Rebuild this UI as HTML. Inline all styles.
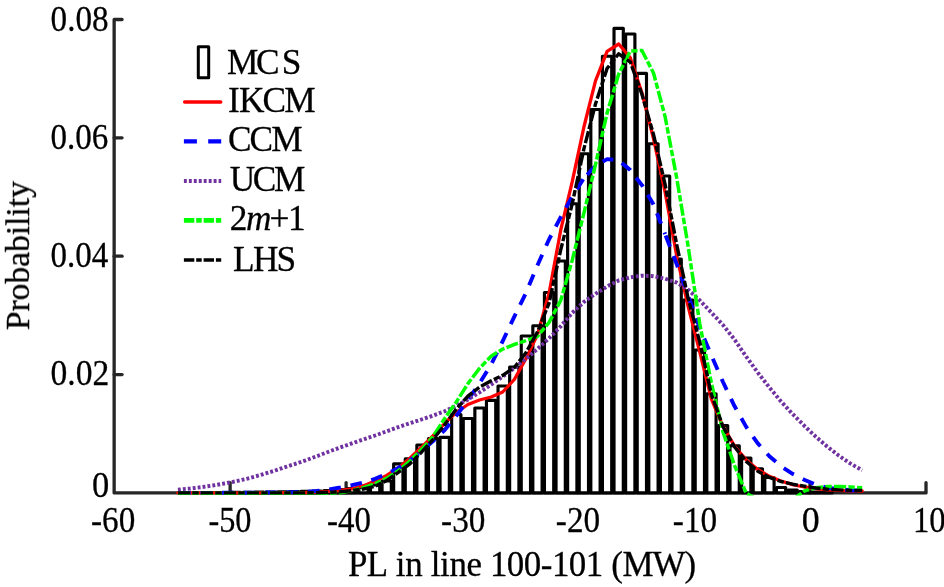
<!DOCTYPE html>
<html><head><meta charset="utf-8"><title>PL in line 100-101</title>
<style>
html,body{margin:0;padding:0;background:#fff}
body{width:944px;height:587px;overflow:hidden}
svg{display:block}
svg{font-family:"Liberation Serif","Times New Roman",serif;font-size:33.5px;fill:#000}
</style></head><body>
<svg width="944" height="587" viewBox="0 0 944 587">
<rect width="944" height="587" fill="#fff"/>
<filter id="soft" filterUnits="userSpaceOnUse" x="0" y="0" width="944" height="587"><feGaussianBlur stdDeviation="0.4"/></filter>
<g filter="url(#soft)">
<g stroke="#262626" stroke-width="3.3" fill="none" stroke-linecap="round" stroke-linejoin="round">
<path d="M122.05,19.50 H114.15 V492.90 H926.01 v-10.3"/>
<path d="M230.13,492.90 v-10.3"/>
<path d="M346.11,492.90 v-10.3"/>
<path d="M462.09,492.90 v-10.3"/>
<path d="M578.07,492.90 v-10.3"/>
<path d="M694.05,492.90 v-10.3"/>
<path d="M810.03,492.90 v-10.3"/>
<path d="M114.15,374.55 h7.9"/>
<path d="M114.15,256.20 h7.9"/>
<path d="M114.15,137.85 h7.9"/>
</g>
<g fill="#fff" stroke="#000" stroke-width="3.15" stroke-linejoin="round">
<rect x="231.29" y="492.20" width="9.28" height="0.70"/>
<rect x="242.89" y="492.20" width="9.28" height="0.70"/>
<rect x="254.49" y="492.00" width="9.28" height="0.90"/>
<rect x="266.08" y="492.00" width="9.28" height="0.90"/>
<rect x="277.68" y="491.80" width="9.28" height="1.10"/>
<rect x="289.28" y="491.60" width="9.28" height="1.30"/>
<rect x="300.88" y="491.40" width="9.28" height="1.50"/>
<rect x="312.48" y="491.00" width="9.28" height="1.90"/>
<rect x="324.07" y="490.50" width="9.28" height="2.40"/>
<rect x="335.67" y="489.50" width="9.28" height="3.40"/>
<rect x="347.27" y="488.50" width="9.28" height="4.40"/>
<rect x="358.87" y="487.50" width="9.28" height="5.40"/>
<rect x="370.47" y="485.00" width="9.28" height="7.90"/>
<rect x="382.06" y="481.00" width="9.28" height="11.90"/>
<rect x="393.66" y="463.85" width="9.28" height="29.05"/>
<rect x="405.26" y="458.70" width="9.28" height="34.20"/>
<rect x="416.86" y="445.00" width="9.28" height="47.90"/>
<rect x="428.46" y="438.50" width="9.28" height="54.40"/>
<rect x="440.05" y="437.40" width="9.28" height="55.50"/>
<rect x="451.65" y="414.50" width="9.28" height="78.40"/>
<rect x="463.25" y="418.50" width="9.28" height="74.40"/>
<rect x="474.85" y="408.00" width="9.28" height="84.90"/>
<rect x="486.45" y="400.30" width="9.28" height="92.60"/>
<rect x="498.04" y="386.00" width="9.28" height="106.90"/>
<rect x="509.64" y="367.00" width="9.28" height="125.90"/>
<rect x="521.24" y="336.00" width="9.28" height="156.90"/>
<rect x="532.84" y="325.75" width="9.28" height="167.15"/>
<rect x="544.44" y="292.50" width="9.28" height="200.40"/>
<rect x="556.03" y="261.00" width="9.28" height="231.90"/>
<rect x="567.63" y="203.75" width="9.28" height="289.15"/>
<rect x="579.23" y="153.75" width="9.28" height="339.15"/>
<rect x="590.83" y="109.50" width="9.28" height="383.40"/>
<rect x="602.43" y="56.25" width="9.28" height="436.65"/>
<rect x="614.02" y="28.30" width="9.28" height="464.60"/>
<rect x="625.62" y="34.00" width="9.28" height="458.90"/>
<rect x="637.22" y="73.40" width="9.28" height="419.50"/>
<rect x="648.82" y="143.75" width="9.28" height="349.15"/>
<rect x="660.42" y="176.00" width="9.28" height="316.90"/>
<rect x="672.01" y="259.00" width="9.28" height="233.90"/>
<rect x="683.61" y="300.00" width="9.28" height="192.90"/>
<rect x="695.21" y="350.00" width="9.28" height="142.90"/>
<rect x="706.81" y="393.75" width="9.28" height="99.15"/>
<rect x="718.41" y="425.50" width="9.28" height="67.40"/>
<rect x="730.00" y="445.75" width="9.28" height="47.15"/>
<rect x="741.60" y="458.00" width="9.28" height="34.90"/>
<rect x="753.20" y="468.75" width="9.28" height="24.15"/>
<rect x="764.80" y="477.50" width="9.28" height="15.40"/>
<rect x="776.40" y="487.50" width="9.28" height="5.40"/>
<rect x="787.99" y="490.00" width="9.28" height="2.90"/>
<rect x="799.59" y="491.50" width="9.28" height="1.40"/>
<rect x="811.19" y="492.00" width="9.28" height="0.90"/>
<rect x="822.79" y="492.20" width="9.28" height="0.70"/>
</g>
<clipPath id="cp"><rect x="100" y="0" width="840" height="495.4"/></clipPath>
<g fill="none" stroke-width="3" stroke-linejoin="round" clip-path="url(#cp)">
<path d="M177.9,492.9 L189.5,492.9 L201.1,492.9 L212.7,492.9 L224.3,492.9 L235.9,492.8 L247.5,492.8 L259.1,492.8 L270.7,492.7 L282.3,492.7 L293.9,492.6 L305.5,492.5 L317.1,492.1 L328.7,491.4 L340.3,490.5 L351.9,488.8 L363.5,485.7 L375.1,481.1 L386.7,475.5 L398.3,467.9 L409.9,458.3 L421.5,447.3 L433.1,435.7 L444.7,423.3 L456.3,412.3 L467.9,404.5 L479.5,400.0 L491.1,397.0 L502.7,392.0 L514.3,379.5 L525.9,358.8 L537.5,334.6 L549.1,293.0 L560.7,230.2 L572.3,181.4 L583.9,127.0 L595.5,80.9 L607.1,51.3 L618.7,44.0 L630.3,57.7 L641.9,92.7 L653.5,138.6 L665.1,192.2 L676.7,255.8 L688.3,307.2 L699.8,352.2 L711.4,399.2 L723.0,426.4 L734.6,446.2 L746.2,459.9 L757.8,469.5 L769.4,476.3 L781.0,481.0 L792.6,484.6 L804.2,487.0 L815.8,488.7 L827.4,489.8 L839.0,490.4 L850.6,490.8 L862.2,491.0" stroke="#ff0000" stroke-width="3.3" stroke-linecap="round"/>
<path d="M177.9,492.9 L189.5,492.9 L201.1,492.9 L212.7,492.9 L224.3,492.8 L235.9,492.8 L247.5,492.7 L259.1,492.6 L270.7,492.5 L282.3,492.4 L293.9,492.3 L305.5,492.0 L317.1,490.9 L328.7,489.5 L340.3,487.5 L351.9,485.2 L363.5,482.5 L375.1,478.8 L386.7,473.9 L398.3,468.0 L409.9,460.4 L421.5,451.2 L433.1,441.1 L444.7,430.0 L456.3,415.9 L467.9,400.1 L479.5,383.3 L491.1,364.6 L502.7,341.1 L514.3,316.7 L525.9,293.0 L537.5,265.2 L549.1,239.3 L560.7,217.2 L572.3,196.5 L583.9,178.2" stroke="#0000ff" stroke-dasharray="11.7 9.8" stroke-dashoffset="20.41" stroke-width="3.9"/>
<path d="M583.9,178.2 L595.5,165.7 L607.1,159.1 L618.7,160.4 L630.3,170.1 L641.9,185.1 L653.5,204.5 L665.1,234.1" stroke="#0000ff" stroke-dasharray="11.3 9.4" stroke-dashoffset="16.00" stroke-width="3.9"/>
<path d="M665.1,234.1 L676.7,264.1 L688.3,296.5 L699.8,328.0 L711.4,355.5 L723.0,382.0 L734.6,406.3 L746.2,426.9 L757.8,443.4 L769.4,456.2 L781.0,466.2 L792.6,473.8 L804.2,479.7 L815.8,484.7 L827.4,487.7 L839.0,489.2 L850.6,490.2 L862.2,490.5" stroke="#0000ff" stroke-dasharray="12 10" stroke-dashoffset="20.48" stroke-width="3.9"/>
<path d="M177.9,489.6 L189.5,488.6 L201.1,487.2 L212.7,485.5 L224.3,483.5 L235.9,481.3 L247.5,478.6 L259.1,475.4 L270.7,471.9 L282.3,468.1 L293.9,464.3 L305.5,460.4 L317.1,456.1 L328.7,451.7 L340.3,447.4 L351.9,443.4 L363.5,439.4 L375.1,435.5 L386.7,431.3 L398.3,427.1 L409.9,423.2 L421.5,419.5 L433.1,415.6 L444.7,411.2 L456.3,405.8 L467.9,399.5 L479.5,392.4 L491.1,384.7 L502.7,376.6 L514.3,368.1 L525.9,358.9 L537.5,348.9 L549.1,338.2 L560.7,326.4 L572.3,312.8 L583.9,301.9 L595.5,293.8 L607.1,286.5 L618.7,280.4 L630.3,277.4 L641.9,275.6 L653.5,276.2 L665.1,278.7 L676.7,282.6 L688.3,289.8 L699.8,300.4 L711.4,312.6 L723.0,325.0 L734.6,339.7 L746.2,356.6 L757.8,372.6 L769.4,387.5 L781.0,401.4 L792.6,414.0 L804.2,425.7 L815.8,436.7 L827.4,446.7 L839.0,455.8 L850.6,463.6 L862.2,470.3" stroke="#7030a0" stroke-dasharray="2.9 2.06" stroke-width="3.9"/>
<path d="M177.9,493.3 L189.5,493.3 L201.1,493.3 L212.7,493.3 L224.3,493.3 L235.9,493.3 L247.5,493.3 L259.1,493.3 L270.7,493.3 L282.3,493.3 L293.9,493.3 L305.5,493.3 L317.1,493.2 L328.7,493.0 L340.3,492.7 L351.9,490.7 L363.5,487.7 L375.1,483.7 L386.7,478.4 L398.3,470.8 L409.9,461.0 L421.5,449.6 L433.1,436.5 L444.7,418.5 L456.3,402.0 L467.9,383.6 L479.5,368.4 L491.1,356.2 L502.7,349.1 L514.3,344.5 L525.9,340.6 L537.5,336.3 L549.1,322.4 L560.7,300.5 L572.3,259.9 L583.9,213.1 L595.5,164.6 L607.1,113.0 L618.7,74.1 L630.3,51.0 L641.9,50.5 L653.5,73.0 L665.1,116.6 L676.7,177.8 L688.3,247.4 L699.8,324.1 L711.4,383.1 L723.0,431.9 L734.6,465.6 L746.2,493.1 L757.8,500.0 L769.4,500.0 L781.0,500.0 L792.6,500.0 L804.2,491.0 L815.8,487.8 L827.4,486.6 L839.0,486.6 L850.6,486.9 L862.2,487.8" stroke="#00ff00" stroke-dasharray="12.2 2.2 6.4 2.2" stroke-dashoffset="0" stroke-width="3.5"/>
<path d="M177.9,492.9 L189.5,492.9 L201.1,492.9 L212.7,492.9 L224.3,492.9 L235.9,492.9 L247.5,492.9 L259.1,492.9 L270.7,492.9 L282.3,492.9 L293.9,492.9 L305.5,492.9 L317.1,492.7 L328.7,492.3 L340.3,491.8 L351.9,490.6 L363.5,489.0 L375.1,486.2 L386.7,480.5 L398.3,472.4 L409.9,463.8 L421.5,452.2 L433.1,439.4 L444.7,424.8 L456.3,409.1 L467.9,396.2 L479.5,387.1 L491.1,380.8 L502.7,375.4 L514.3,367.5 L525.9,352.8 L537.5,331.9 L549.1,303.0 L560.7,249.9 L572.3,203.5 L583.9,148.9 L595.5,104.0 L607.1,68.4 L618.7,53.8 L630.3,62.0 L641.9,94.2 L653.5,134.4 L665.1,184.4 L676.7,244.5 L688.3,299.0 L699.8,342.1 L711.4,394.4 L723.0,426.7 L734.6,447.0 L746.2,461.4 L757.8,471.2 L769.4,477.4 L781.0,481.5 L792.6,484.2 L804.2,486.1 L815.8,488.0 L827.4,489.3 L839.0,489.9 L850.6,490.4 L862.2,490.5" stroke="#000" stroke-dasharray="12.2 2.2 6.4 2.2" stroke-dashoffset="0" stroke-width="3.4"/>
</g>
<g fill="none" stroke-width="3">
<rect x="198.3" y="46.7" width="10.4" height="31.1" stroke="#000" stroke-width="3" stroke-linejoin="round" fill="#fff"/>
<path d="M184.6,102 H220.8" stroke="#ff0000" stroke-width="3.3" stroke-linecap="round"/>
<path d="M183.9,141.4 H221.2" stroke="#0000ff" stroke-dasharray="13 11.3" stroke-width="4.1"/>
<path d="M183.9,181.1 H221.2" stroke="#7030a0" stroke-dasharray="2.9 2.06" stroke-width="4.0"/>
<path d="M183.9,220.4 H221.2" stroke="#00ff00" stroke-dasharray="10.4 1.9 5.5 1.9" stroke-width="4.6"/>
<path d="M183.9,260 H221.2" stroke="#000" stroke-dasharray="10.4 1.9 5.5 1.9" stroke-width="3.6"/>
</g>
<g stroke="#000" stroke-width="0.28">
<text x="227 256.05 281.7" y="74.3" font-size="35.3">MCS</text>
<text x="228.02 238.90 262.47 284.25" y="112.20" font-size="35.3" >IKCM</text>
<text x="227.95 249.60 271.25" y="151.00" font-size="35.3" >CCM</text>
<text x="229.76 252.78 274.05" y="191.10" font-size="35.3" >UCM</text>
<text y="230.20" font-size="35.3" ><tspan x="229.75">2</tspan><tspan x="246.05" font-style="italic">m</tspan><tspan x="269.59 287.97">+1</tspan></text>
<text x="232.98 252.95 276.56" y="270.90" font-size="35.3" >LHS</text>
</g>
<g stroke="#000" stroke-width="0.28">
<text transform="translate(91.07,532.10) scale(0.9339,1)" font-size="35.5">-60</text>
<text transform="translate(208.40,532.10) scale(0.9092,1)" font-size="35.5">-50</text>
<text transform="translate(326.98,532.10) scale(0.9285,1)" font-size="35.5">-40</text>
<text transform="translate(441.07,532.10) scale(0.9361,1)" font-size="35.5">-30</text>
<text transform="translate(555.87,532.10) scale(0.9361,1)" font-size="35.5">-20</text>
<text transform="translate(672.86,532.10) scale(0.9384,1)" font-size="35.5">-10</text>
<text transform="translate(801.63,532.10) scale(1.0102,1)" font-size="35.5">0</text>
<text transform="translate(913.03,532.10) scale(0.9200,1)" font-size="35.5">10</text>
<text transform="translate(50.53,31.30) scale(0.9357,1)" font-size="35.5">0.08</text>
<text transform="translate(50.54,149.30) scale(0.9311,1)" font-size="35.5">0.06</text>
<text transform="translate(50.54,267.10) scale(0.9300,1)" font-size="35.5">0.04</text>
<text transform="translate(50.52,385.10) scale(0.9453,1)" font-size="35.5">0.02</text>
<text transform="translate(91.89,497.00) scale(0.9704,1)" font-size="35.5">0</text>
</g>
<g stroke="#000" stroke-width="0.28">
<text x="347.89 366.72 387.40 395.86 405.27 422.20 430.66 440.07 449.47 466.40 481.42 489.89 506.81 523.74 540.67 551.94 568.87 585.79 602.72 611.18 622.46 652.56 684.51" y="575.50" font-size="34.9" >PL in line 100-101 (MW)</text>
<text transform="translate(29,255.6) rotate(-90)" text-anchor="middle" font-size="33.5">Probability</text>
</g>
</g>
</svg>
</body></html>
